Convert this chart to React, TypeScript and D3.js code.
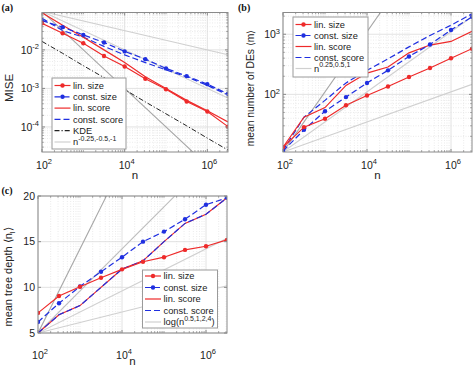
import React from 'react';
import * as d3 from 'd3';

// ---------- data ----------
const nValues = [100, 316, 1000, 3162, 10000, 31623, 100000, 316228, 1000000, 3162278];

// (a) MISE
const miseLinSize = [0.049, 0.0269, 0.0148, 0.00692, 0.00372, 0.00178, 0.000955, 0.000457, 0.000251, 0.000102];
const miseConstSize = [0.0575, 0.0389, 0.0245, 0.0155, 0.00912, 0.00575, 0.00331, 0.00209, 0.00129, 0.000724];
const miseLinScore = [0.0912, 0.0437, 0.0214, 0.01, 0.00468, 0.002, 0.001, 0.00049, 0.000263, 0.000135];
const miseConstScore = [0.066, 0.0316, 0.0214, 0.0123, 0.00741, 0.00468, 0.00302, 0.002, 0.0012, 0.000676];
const miseKDE = [0.0166, 0.00813, 0.00389, 0.00191, 0.000933, 0.000447, 0.000219, 0.000107, 5.13e-5, 2.51e-5];
const miseGuideExps = [-0.25, -0.5, -1];
const miseGuideStart = 0.1;

// (b) mean number of DEs
const desLinSize = [13.2, 28.5, 39.4, 66, 95.5, 135, 195, 275, 398, 575];
const desConstSize = [11.4, 25.7, 52.5, 90, 155, 251, 427, 676, 1175, 1950];
const desLinScore = [13.2, 41.7, 60.3, 141, 226, 285, 490, 661, 759, 1122];
const desConstScore = [11.7, 41.7, 79.4, 155, 251, 389, 617, 955, 1413, 2188];
const desGuideExps = [0.25, 0.5, 1];
const desGuideStart = 11;

// (c) mean tree depth
const depthLinSize = [7.2, 9.05, 10.07, 11.05, 11.97, 12.8, 13.3, 14.1, 14.5, 15.2];
const depthConstSize = [6.2, 8.25, 10.1, 11.7, 13.3, 15.0, 16.1, 17.45, 19.05, 19.8];
const depthLinScore = [5.0, 7.0, 8.0, 10.0, 12.0, 12.9, 15.0, 17.0, 18.0, 19.8];
const depthConstScore = [5.0, 7.0, 8.0, 10.0, 12.0, 12.9, 15.0, 17.0, 18.0, 19.8];
const depthGuideExps = [0.5, 1, 2, 4];
const depthGuideStart = 5;

const xTickExps = [2, 4, 6];
const miseTickExps = [-4, -3, -2];
const desTickExps = [2, 3];
const depthTicks = [5, 10, 15, 20];

// ---------- style ----------
const FONT = "'Liberation Sans', Arial, Helvetica, sans-serif";
const RED = '#ee2a2a';
const BLUE = '#1f2fe0';
const GRAY_DARK = '#a6a6a6';
const GRAY_MID = '#bdbdbd';
const GRAY_LIGHT = '#d0d0d0';
const BOX = '#8a8a8a';
const TXT = '#222';

type Series = { values: number[]; color: string; dash?: string; marker?: boolean; width?: number };
type Guide = { pts: [number, number][]; color: string };
type LegendEntry = { label: React.ReactNode; color: string; dash?: string; marker?: boolean };

type PanelProps = {
  rect: { l: number; r: number; t: number; b: number };
  yDomain: [number, number];
  yLog: boolean;
  yTicks: { v: number; label: React.ReactNode }[];
  series: Series[];
  guides: Guide[];
  legend: { x: number; y: number; w: number; h: number; entries: LegendEntry[]; first: number; step: number };
  id: string;
  xLabelY: number;
  tickLabelY: number;
};

const X_DOMAIN: [number, number] = [100, 3162278];

function sup(base: string, exp: string, fs = 7.5) {
  return (
    <>
      {base}
      <tspan dy={-4.5} fontSize={fs}>{exp}</tspan>
    </>
  );
}

function Panel(p: PanelProps) {
  const { rect } = p;
  const x = d3.scaleLog().domain(X_DOMAIN).range([rect.l, rect.r]);
  const y = (p.yLog ? d3.scaleLog() : d3.scaleLinear()).domain(p.yDomain).range([rect.b, rect.t]) as any;
  const line = d3
    .line<[number, number]>()
    .x((d) => x(d[0]))
    .y((d) => y(d[1]));

  // grid values
  const xMinor: number[] = [];
  for (let d = 2; d <= 6; d++) for (let k = 1; k <= 9; k++) {
    const v = k * Math.pow(10, d);
    if (v >= X_DOMAIN[0] && v <= X_DOMAIN[1] && !xTickExps.some((e) => Math.abs(Math.pow(10, e) - v) < 1e-6)) xMinor.push(v);
  }
  const yMinor: number[] = [];
  if (p.yLog) {
    const lo = Math.floor(Math.log10(p.yDomain[0]));
    const hi = Math.ceil(Math.log10(p.yDomain[1]));
    for (let d = lo; d <= hi; d++) for (let k = 1; k <= 9; k++) {
      const v = k * Math.pow(10, d);
      if (v > p.yDomain[0] && v < p.yDomain[1] && !p.yTicks.some((t) => Math.abs(t.v - v) / v < 1e-6)) yMinor.push(v);
    }
  }
  const clipId = `clip-${p.id}`;
  const L = p.legend;
  return (
    <g>
      <defs>
        <clipPath id={clipId}>
          <rect x={rect.l} y={rect.t} width={rect.r - rect.l} height={rect.b - rect.t} />
        </clipPath>
      </defs>
      <rect x={rect.l} y={rect.t} width={rect.r - rect.l} height={rect.b - rect.t} fill="#fff" />
      {/* minor grid */}
      {xMinor.map((v, i) => (
        <line key={`xm${i}`} x1={x(v)} x2={x(v)} y1={rect.t} y2={rect.b} stroke="#e2e2e2" strokeWidth={0.7} strokeDasharray="1,1.5" />
      ))}
      {yMinor.map((v, i) => (
        <line key={`ym${i}`} y1={y(v)} y2={y(v)} x1={rect.l} x2={rect.r} stroke="#e2e2e2" strokeWidth={0.7} strokeDasharray="1,1.5" />
      ))}
      {/* major grid */}
      {xTickExps.map((e) => (
        <line key={`xg${e}`} x1={x(Math.pow(10, e))} x2={x(Math.pow(10, e))} y1={rect.t} y2={rect.b} stroke="#dadada" strokeWidth={0.8} />
      ))}
      {p.yTicks.map((t, i) => (
        <line key={`yg${i}`} y1={y(t.v)} y2={y(t.v)} x1={rect.l} x2={rect.r} stroke="#dadada" strokeWidth={0.8} />
      ))}
      <g clipPath={`url(#${clipId})`}>
        {p.guides.map((g, i) => (
          <path key={`g${i}`} d={line(g.pts) || ''} fill="none" stroke={g.color} strokeWidth={1.1} />
        ))}
        {p.series.map((s, i) => (
          <g key={`s${i}`}>
            <path
              d={line(nValues.map((n, j) => [n, s.values[j]] as [number, number])) || ''}
              fill="none"
              stroke={s.color}
              strokeWidth={s.width ?? 1.2}
              strokeDasharray={s.dash}
            />
            {s.marker &&
              nValues.map((n, j) => <circle key={j} cx={x(n)} cy={y(s.values[j])} r={2.2} fill={s.color} />)}
          </g>
        ))}
      </g>
      {/* ticks */}
      {xTickExps.map((e) => {
        const xx = x(Math.pow(10, e));
        return (
          <g key={`xt${e}`}>
            <line x1={xx} x2={xx} y1={rect.b} y2={rect.b - 3} stroke={BOX} />
            <line x1={xx} x2={xx} y1={rect.t} y2={rect.t + 3} stroke={BOX} />
            <text x={xx + 2} y={p.tickLabelY} textAnchor="middle" fontSize={10.5} fill={TXT} fontFamily={FONT}>
              {sup('10', String(e))}
            </text>
          </g>
        );
      })}
      {xMinor.map((v, i) => (
        <g key={`xmt${i}`}>
          <line x1={x(v)} x2={x(v)} y1={rect.b} y2={rect.b - 1.8} stroke={BOX} strokeWidth={0.8} />
          <line x1={x(v)} x2={x(v)} y1={rect.t} y2={rect.t + 1.8} stroke={BOX} strokeWidth={0.8} />
        </g>
      ))}
      {p.yTicks.map((t, i) => {
        const yy = y(t.v);
        return (
          <g key={`yt${i}`}>
            <line x1={rect.l} x2={rect.l + 3} y1={yy} y2={yy} stroke={BOX} />
            <line x1={rect.r} x2={rect.r - 3} y1={yy} y2={yy} stroke={BOX} />
            <text x={rect.l - 3} y={yy + 3.8} textAnchor="end" fontSize={10.5} fill={TXT} fontFamily={FONT}>
              {t.label}
            </text>
          </g>
        );
      })}
      {yMinor.map((v, i) => (
        <g key={`ymt${i}`}>
          <line x1={rect.l} x2={rect.l + 1.8} y1={y(v)} y2={y(v)} stroke={BOX} strokeWidth={0.8} />
          <line x1={rect.r} x2={rect.r - 1.8} y1={y(v)} y2={y(v)} stroke={BOX} strokeWidth={0.8} />
        </g>
      ))}
      <rect x={rect.l} y={rect.t} width={rect.r - rect.l} height={rect.b - rect.t} fill="none" stroke={BOX} strokeWidth={1} />
      <text x={(rect.l + rect.r) / 2} y={p.xLabelY} textAnchor="middle" fontSize={11.5} fill={TXT} fontFamily={FONT}>
        n
      </text>
      {/* legend */}
      <rect x={L.x} y={L.y} width={L.w} height={L.h} fill="#fff" stroke="#9a9a9a" strokeWidth={1} />
      {L.entries.map((e, i) => {
        const cy = L.first + i * L.step;
        const x0 = L.x + 2.5;
        const x1 = L.x + 18.5;
        return (
          <g key={`le${i}`}>
            <line x1={x0} x2={x1} y1={cy} y2={cy} stroke={e.color} strokeWidth={1.2} strokeDasharray={e.dash} />
            {e.marker && <circle cx={(x0 + x1) / 2} cy={cy} r={2.2} fill={e.color} />}
            <text x={x1 + 2.5} y={cy + 3.3} fontSize={9.3} fill={TXT} fontFamily={FONT}>
              {e.label}
            </text>
          </g>
        );
      })}
    </g>
  );
}

function guidePower(start: number, exps: number[], colors: string[]): Guide[] {
  return exps.map((e, i) => ({
    pts: X_DOMAIN.map((n) => [n, start * Math.pow(n / X_DOMAIN[0], e)] as [number, number]),
    color: colors[i],
  }));
}

function guideLog(start: number, exps: number[], colors: string[]): Guide[] {
  return exps.map((e, i) => ({
    pts: X_DOMAIN.map((n) => [n, start + e * Math.log(n / X_DOMAIN[0])] as [number, number]),
    color: colors[i],
  }));
}

export default function App() {
  const dataEntries: LegendEntry[] = [
    { label: 'lin. size', color: RED, marker: true },
    { label: 'const. size', color: BLUE, dash: '6,3', marker: true },
    { label: 'lin. score', color: RED },
    { label: 'const. score', color: BLUE, dash: '6,3' },
  ];
  return (
    <svg width={474} height={367} style={{ position: 'absolute', left: 0, top: 0, background: '#fff' }} fontFamily={FONT}>
      {/* (a) */}
      <Panel
        id="a"
        rect={{ l: 42, r: 228, t: 12.5, b: 152 }}
        yDomain={[Math.pow(10, -4.65), Math.pow(10, -1.03)]}
        yLog
        yTicks={miseTickExps.map((e) => ({ v: Math.pow(10, e), label: sup('10', String(e)) }))}
        guides={guidePower(miseGuideStart, miseGuideExps, [GRAY_LIGHT, GRAY_LIGHT, GRAY_DARK])}
        series={[
          { values: miseKDE, color: '#222', dash: '5,2,1.2,2', width: 1 },
          { values: miseConstScore, color: BLUE, dash: '6,3' },
          { values: miseLinScore, color: RED },
          { values: miseConstSize, color: BLUE, dash: '6,3', marker: true },
          { values: miseLinSize, color: RED, marker: true },
        ]}
        legend={{
          x: 52, y: 78, w: 74, h: 71, first: 85.5, step: 11.3,
          entries: [
            ...dataEntries,
            { label: 'KDE', color: '#222', dash: '5,2,1.2,2' },
            { label: sup('n', '-0.25,-0.5,-1', 7), color: GRAY_LIGHT },
          ],
        }}
        xLabelY={179}
        tickLabelY={168.5}
      />
      <text x={1.5} y={10.5} fontSize={10} fontWeight="bold" fontFamily="'Liberation Serif', 'Times New Roman', serif" fill="#111">(a)</text>
      <text transform="translate(12.5,88) rotate(-90)" textAnchor="middle" fontSize={11.5} fill={TXT} fontFamily={FONT}>MISE</text>

      {/* (b) */}
      <Panel
        id="b"
        rect={{ l: 283, r: 472, t: 12.5, b: 152 }}
        yDomain={[11, 2300]}
        yLog
        yTicks={desTickExps.map((e) => ({ v: Math.pow(10, e), label: sup('10', String(e)) }))}
        guides={guidePower(desGuideStart, desGuideExps, [GRAY_LIGHT, GRAY_LIGHT, GRAY_DARK])}
        series={[
          { values: desConstScore, color: BLUE, dash: '6,3' },
          { values: desLinScore, color: RED },
          { values: desConstSize, color: BLUE, dash: '6,3', marker: true },
          { values: desLinSize, color: RED, marker: true },
        ]}
        legend={{
          x: 293, y: 17, w: 75, h: 60, first: 24.5, step: 11,
          entries: [...dataEntries, { label: sup('n', '0.25,0.5,1', 7), color: GRAY_LIGHT }],
        }}
        xLabelY={179}
        tickLabelY={168.5}
      />
      <text x={238} y={10.5} fontSize={10} fontWeight="bold" fontFamily="'Liberation Serif', 'Times New Roman', serif" fill="#111">(b)</text>
      <text transform="translate(254,88) rotate(-90)" textAnchor="middle" fontSize={10.3} fill={TXT} fontFamily={FONT}>
        mean number of DEs ⟨m⟩
      </text>

      {/* (c) */}
      <Panel
        id="c"
        rect={{ l: 38, r: 227, t: 196, b: 333 }}
        yDomain={[5, 20]}
        yLog={false}
        yTicks={depthTicks.map((v) => ({ v, label: String(v) }))}
        guides={guideLog(depthGuideStart, depthGuideExps, [GRAY_LIGHT, GRAY_LIGHT, GRAY_MID, GRAY_DARK])}
        series={[
          { values: depthLinScore, color: RED },
          { values: depthConstScore, color: BLUE, dash: '6,3' },
          { values: depthConstSize, color: BLUE, dash: '6,3', marker: true },
          { values: depthLinSize, color: RED, marker: true },
        ]}
        legend={{
          x: 142.5, y: 270, w: 75, h: 58, first: 276, step: 11.5,
          entries: [
            ...dataEntries,
            {
              label: (
                <>
                  log(n<tspan dy={-4.5} fontSize={7}>0.5,1,2,4</tspan>
                  <tspan dy={4.5}>)</tspan>
                </>
              ),
              color: GRAY_LIGHT,
            },
          ],
        }}
        xLabelY={365}
        tickLabelY={358.5}
      />
      <text x={1.5} y={193.5} fontSize={10} fontWeight="bold" fontFamily="'Liberation Serif', 'Times New Roman', serif" fill="#111">(c)</text>
      <text transform="translate(12,277) rotate(-90)" textAnchor="middle" fontSize={11} fill={TXT} fontFamily={FONT}>
        mean tree depth ⟨n<tspan dy={2.5} fontSize={8}>l</tspan><tspan dy={-2.5}>⟩</tspan>
      </text>
    </svg>
  );
}
